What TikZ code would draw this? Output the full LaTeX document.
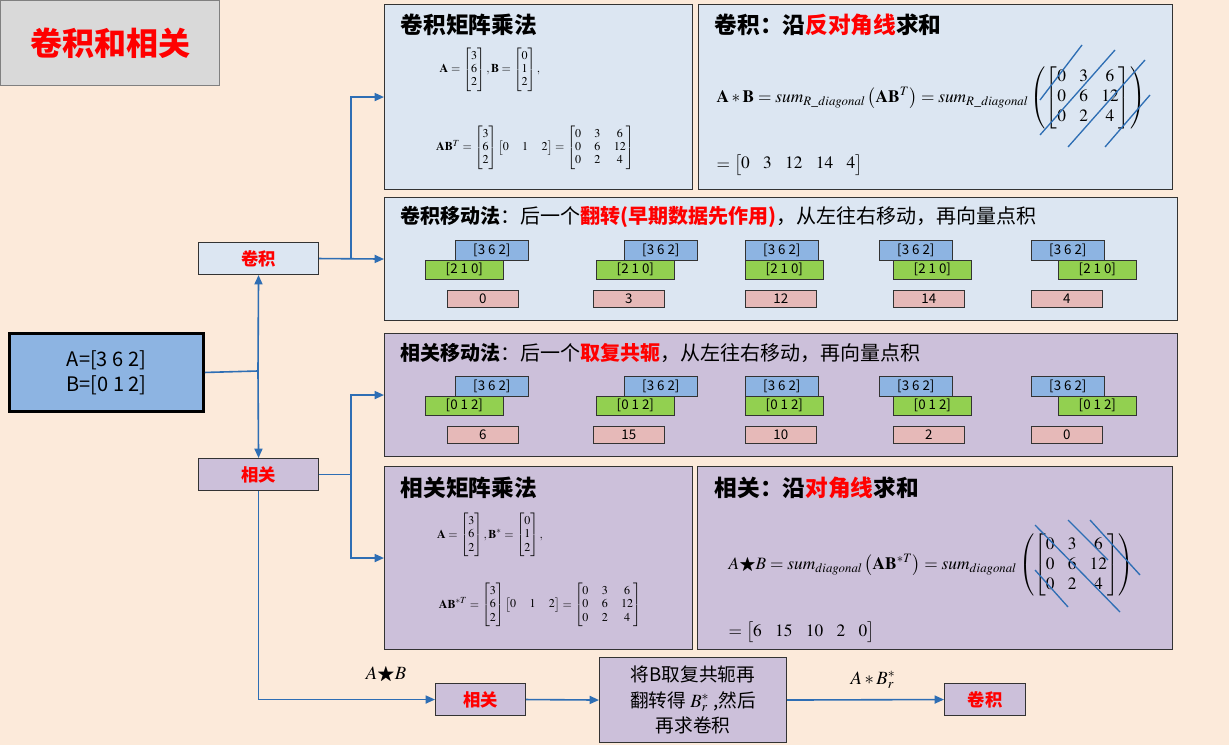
\documentclass[tikz,border=0pt]{standalone}
\usepackage{amsmath,amssymb}
\usepackage{mathptmx}
\usepackage[no-math]{fontspec}
\setmainfont{Noto Sans CJK SC}
\usetikzlibrary{arrows.meta}
\definecolor{bg}{RGB}{252,234,218}
\definecolor{lblue}{RGB}{220,230,242}
\definecolor{lpur}{RGB}{204,192,218}
\definecolor{mblue}{RGB}{141,180,226}
\definecolor{lgreen}{RGB}{146,208,80}
\definecolor{lpink}{RGB}{230,185,184}
\definecolor{arrc}{RGB}{46,110,180}
\definecolor{dred}{RGB}{255,0,0}
\tikzset{
 box/.style={draw=black!80,line width=0.8pt,anchor=north west,inner sep=0pt},
 sb/.style={draw=black!80,line width=0.5pt,anchor=north west,inner sep=0pt,font=\fontsize{10}{11}\selectfont,minimum height=15pt},
 arr/.style={draw=arrc,line width=1.2pt},
 arrh/.style={arr,-{Triangle[length=7pt,width=6pt]}},
 dg/.style={draw=arrc,line width=1pt},
 head/.style={anchor=west,font=\fontsize{17}{20}\selectfont\bfseries},
 mv/.style={anchor=west,font=\fontsize{15}{18}\selectfont},
}
\newcommand{\rd}[1]{\textcolor{dred}{#1}}
\begin{document}
\begin{tikzpicture}[x=0.75pt,y=-0.75pt]
\fill[bg] (0,0) rectangle (1229,745);
\useasboundingbox (0,0) rectangle (1229,745);
% title
\node[box,fill=black!15,draw=black!50,minimum width=164.25pt,minimum height=63.75pt] (title) at (0,0) {};
\node[font=\fontsize{24}{28}\selectfont\bfseries,text=dred] (tt) at (title.center) {卷积和相关};
% left nodes
\node[box,fill=mblue,draw=black,line width=2.2pt,minimum width=145.5pt,minimum height=58.5pt,align=center,font=\fontsize{15}{18}\selectfont] (ab) at (8,332) {};
\node[align=center,font=\fontsize{15}{19}\selectfont] (abt) at (ab.center) {A=[3 6 2]\\B=[0 1 2]};
\node[box,fill=lblue,minimum width=90pt,minimum height=24pt,font=\fontsize{13}{15}\selectfont\bfseries,text=dred] (conv) at (198,242) {卷积};
\node[box,fill=lpur,minimum width=90pt,minimum height=24pt,font=\fontsize{13}{15}\selectfont\bfseries,text=dred] (corr) at (198,458) {相关};
% big boxes
\node[box,fill=lblue,minimum width=231pt,minimum height=138.75pt] (tl) at (384,4) {};
\node[box,fill=lblue,minimum width=355.5pt,minimum height=138.75pt] (tr) at (698,4) {};
\node[box,fill=lblue,minimum width=594.75pt,minimum height=92.25pt] (mc) at (384,197) {};
\node[box,fill=lpur,minimum width=594.75pt,minimum height=92.25pt] (mr) at (384,333) {};
\node[box,fill=lpur,minimum width=231pt,minimum height=137.25pt] (bl) at (384,466) {};
\node[box,fill=lpur,minimum width=356.25pt,minimum height=137.25pt] (br) at (697,466) {};
% headings
\node[head] (h1) at (396,25) {卷积矩阵乘法};
\node[head] (h2) at (710,25) {卷积：沿\rd{反对角线}求和};
\node[head] (h3) at (396,488) {相关矩阵乘法};
\node[head] (h4) at (710,488) {相关：沿\rd{对角线}求和};
\node[mv] (h5) at (396,217) {\textbf{卷积移动法}：后一个\textbf{\rd{翻转(早期数据先作用)}}，从左往右移动，再向量点积};
\node[mv] (h6) at (396,353) {\textbf{相关移动法}：后一个\textbf{\rd{取复共轭}}，从左往右移动，再向量点积};
% math top-left
\node[font=\fontsize{9}{10}\selectfont] (m1) at (490,70) {$\mathbf{A}=\begin{bmatrix}3\\6\\2\end{bmatrix},\mathbf{B}=\begin{bmatrix}0\\1\\2\end{bmatrix},$};
\node[font=\fontsize{9}{10}\selectfont] (m2) at (535,148) {$\mathbf{AB}^T=\begin{bmatrix}3\\6\\2\end{bmatrix}\begin{bmatrix}0&1&2\end{bmatrix}=\begin{bmatrix}0&3&6\\0&6&12\\0&2&4\end{bmatrix}$};
\node[font=\fontsize{9}{10}\selectfont] (m3) at (490,535) {$\mathbf{A}=\begin{bmatrix}3\\6\\2\end{bmatrix},\mathbf{B}^*=\begin{bmatrix}0\\1\\2\end{bmatrix},$};
\node[font=\fontsize{9}{10}\selectfont] (m4) at (540,605) {$\mathbf{AB}^{*T}=\begin{bmatrix}3\\6\\2\end{bmatrix}\begin{bmatrix}0&1&2\end{bmatrix}=\begin{bmatrix}0&3&6\\0&6&12\\0&2&4\end{bmatrix}$};
% math right
\node[anchor=west,font=\fontsize{13}{15}\selectfont] (m5) at (712,98) {$\mathbf{A}*\mathbf{B}=sum_{R\_diagonal}\left(\mathbf{AB}^T\right)=sum_{R\_diagonal}\left(\begin{bmatrix}0&3&6\\0&6&12\\0&2&4\end{bmatrix}\right)$};
\node[anchor=west,font=\fontsize{13}{15}\selectfont] (m6) at (712,165) {$=\begin{bmatrix}0&3&12&14&4\end{bmatrix}$};
\node[anchor=west,font=\fontsize{13}{15}\selectfont] (m7) at (724,565) {$A\bigstar B=sum_{diagonal}\left(\mathbf{AB}^{*T}\right)=sum_{diagonal}\left(\begin{bmatrix}0&3&6\\0&6&12\\0&2&4\end{bmatrix}\right)$};
\node[anchor=west,font=\fontsize{13}{15}\selectfont] (m8) at (724,632) {$=\begin{bmatrix}6&15&10&2&0\end{bmatrix}$};
% diagonal lines
\draw[dg] (1040,100)--(1082,45);
\draw[dg] (1040,135)--(1115,50);
\draw[dg] (1068,147)--(1145,60);
\draw[dg] (1105,147)--(1150,95);
\draw[dg] (1068,520)--(1108,560);
\draw[dg] (1035,525)--(1120,612);
\draw[dg] (1035,570)--(1068,607);
\draw[dg] (1090,520)--(1140,575);
% moving boxes conv
\foreach \bx/\gx/\px/\v [count=\i] in {455/425/447/0,624/596/593/3,745/745/745/12,879/893/893/14,1031/1058/1031/4}{
 \node[sb,fill=mblue,minimum width=54.75pt] (cb\i) at (\bx,240) {[3 6 2]};
 \node[sb,fill=lgreen,minimum width=58.5pt,minimum height=14.25pt] (cg\i) at (\gx,260) {[2 1 0]};
 \node[sb,fill=lpink,minimum width=53.25pt,minimum height=12.75pt] (cp\i) at (\px,290) {\v};
}
\foreach \bx/\gx/\px/\v [count=\i] in {455/425/447/6,624/596/593/15,745/745/745/10,879/893/893/2,1031/1058/1031/0}{
 \node[sb,fill=mblue,minimum width=54.75pt] (rb\i) at (\bx,376) {[3 6 2]};
 \node[sb,fill=lgreen,minimum width=58.5pt,minimum height=14.25pt] (rg\i) at (\gx,396) {[0 1 2]};
 \node[sb,fill=lpink,minimum width=53.25pt,minimum height=12.75pt] (rp\i) at (\px,426) {\v};
}
% bottom row
\node[box,fill=lpur,minimum width=67.5pt,minimum height=24pt,font=\fontsize{13}{15}\selectfont\bfseries,text=dred] (bcorr) at (435,683) {相关};
\node[box,fill=lpur,minimum width=140.25pt,minimum height=63.75pt] (bnote) at (599,657) {};
\node[align=center,font=\fontsize{14}{19}\selectfont] (bnt) at (bnote.center) {将B取复共轭再\\翻转得 $B_r^*$ ,然后\\再求卷积};
\node[box,fill=lpur,minimum width=60.75pt,minimum height=24pt,font=\fontsize{13}{15}\selectfont\bfseries,text=dred] (bconv) at (944,683) {卷积};
\node[font=\fontsize{14}{16}\selectfont] (l1) at (386,675) {$A\bigstar B$};
\node[font=\fontsize{14}{16}\selectfont] (l2) at (873,680) {$A*B_r^*$};
% arrows
\coordinate (j) at (258,371);
\draw[arr] (ab.east) -- (j);
\draw[arrh] (j) -- (conv.south);
\draw[arrh] (j) -- (corr.north);
\draw[arrh] (corr.south) |- (bcorr.west);
\draw[arrh] (bcorr.east) -- (bnote.west);
\draw[arrh] (bnote.east) -- (bconv.west);
\draw[arrh] (conv.east) -- (mc.west);
\draw[arrh] (conv.east) -- ++(32,0) |- (tl.west);
\draw[arrh] (corr.east) -- ++(32,0) |- (mr.west);
\draw[arrh] (corr.east) -- ++(32,0) |- (bl.west);
\end{tikzpicture}
\end{document}
